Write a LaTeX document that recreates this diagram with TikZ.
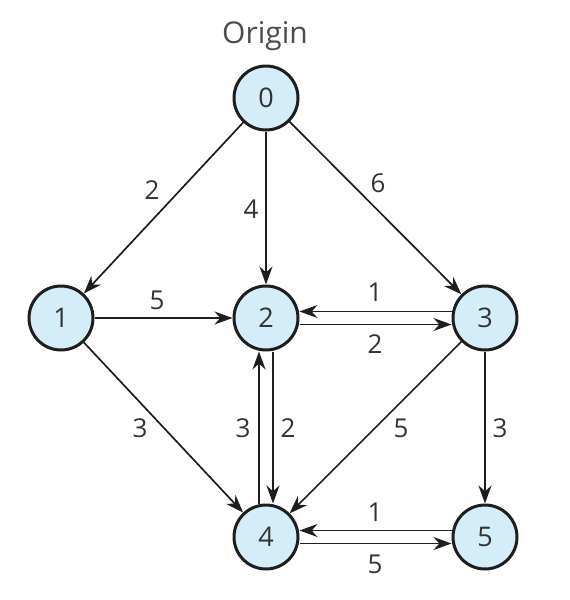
\documentclass[tikz,border=0pt]{standalone}
\usepackage{fontspec}
\setmainfont{Open Sans}
\usetikzlibrary{arrows.meta}
\definecolor{nodefill}{HTML}{D4EDF9}
\definecolor{ink}{HTML}{1E1E1E}
\definecolor{txt}{HTML}{333333}
\begin{document}
\begin{tikzpicture}[x=1pt,y=-1pt,
  vert/.style={circle,draw=ink,line width=3pt,fill=nodefill,minimum size=64pt,inner sep=0pt,
    font=\fontsize{27}{30}\selectfont,text=txt},
  edge/.style={draw=ink,line width=1.7pt,-{Stealth[length=18pt,width=13pt]}},
  lbl/.style={font=\fontsize{26}{30}\selectfont,text=txt,inner sep=0pt}]
\useasboundingbox (0,0) rectangle (570,600);
\node[font=\fontsize{30}{32}\selectfont,text=black!70,inner sep=0pt] (org) at (265,36) {Origin};
\node[vert] (n0) at (266,98) {0};
\node[vert] (n1) at (61,318) {1};
\node[vert] (n2) at (266,318) {2};
\node[vert] (n3) at (485,318) {3};
\node[vert] (n4) at (266,537) {4};
\node[vert] (n5) at (485,537) {5};
\draw[edge] (n0) -- (n1);
\draw[edge] (n0) -- (n2);
\draw[edge] (n0) -- (n3);
\draw[edge] (n1) -- (n2);
\draw[edge] (n1) -- (n4);
\draw[edge] ([yshift=6.5pt]n3.west) -- ([yshift=6.5pt]n2.east);
\draw[edge] ([yshift=-6.5pt]n2.east) -- ([yshift=-6.5pt]n3.west);
\draw[edge] ([xshift=-7pt]n4.north) -- ([xshift=-7pt]n2.south);
\draw[edge] ([xshift=7pt]n2.south) -- ([xshift=7pt]n4.north);
\draw[edge] (n3) -- (n4);
\draw[edge] (n3) -- (n5);
\draw[edge] ([yshift=6.5pt]n5.west) -- ([yshift=6.5pt]n4.east);
\draw[edge] ([yshift=-6.5pt]n4.east) -- ([yshift=-6.5pt]n5.west);
\node[lbl] (l01) at (152,190) {2};
\node[lbl] (l02) at (251,209) {4};
\node[lbl] (l03) at (378,183) {6};
\node[lbl] (l12) at (157,300) {5};
\node[lbl] (l32) at (375,292) {1};
\node[lbl] (l23) at (375,344) {2};
\node[lbl] (l14) at (140,428) {3};
\node[lbl] (l42) at (243,428) {3};
\node[lbl] (l24) at (288,428) {2};
\node[lbl] (l34) at (401,428) {5};
\node[lbl] (l35) at (500,428) {3};
\node[lbl] (l54) at (375,512) {1};
\node[lbl] (l45) at (375,564) {5};
\end{tikzpicture}
\end{document}
